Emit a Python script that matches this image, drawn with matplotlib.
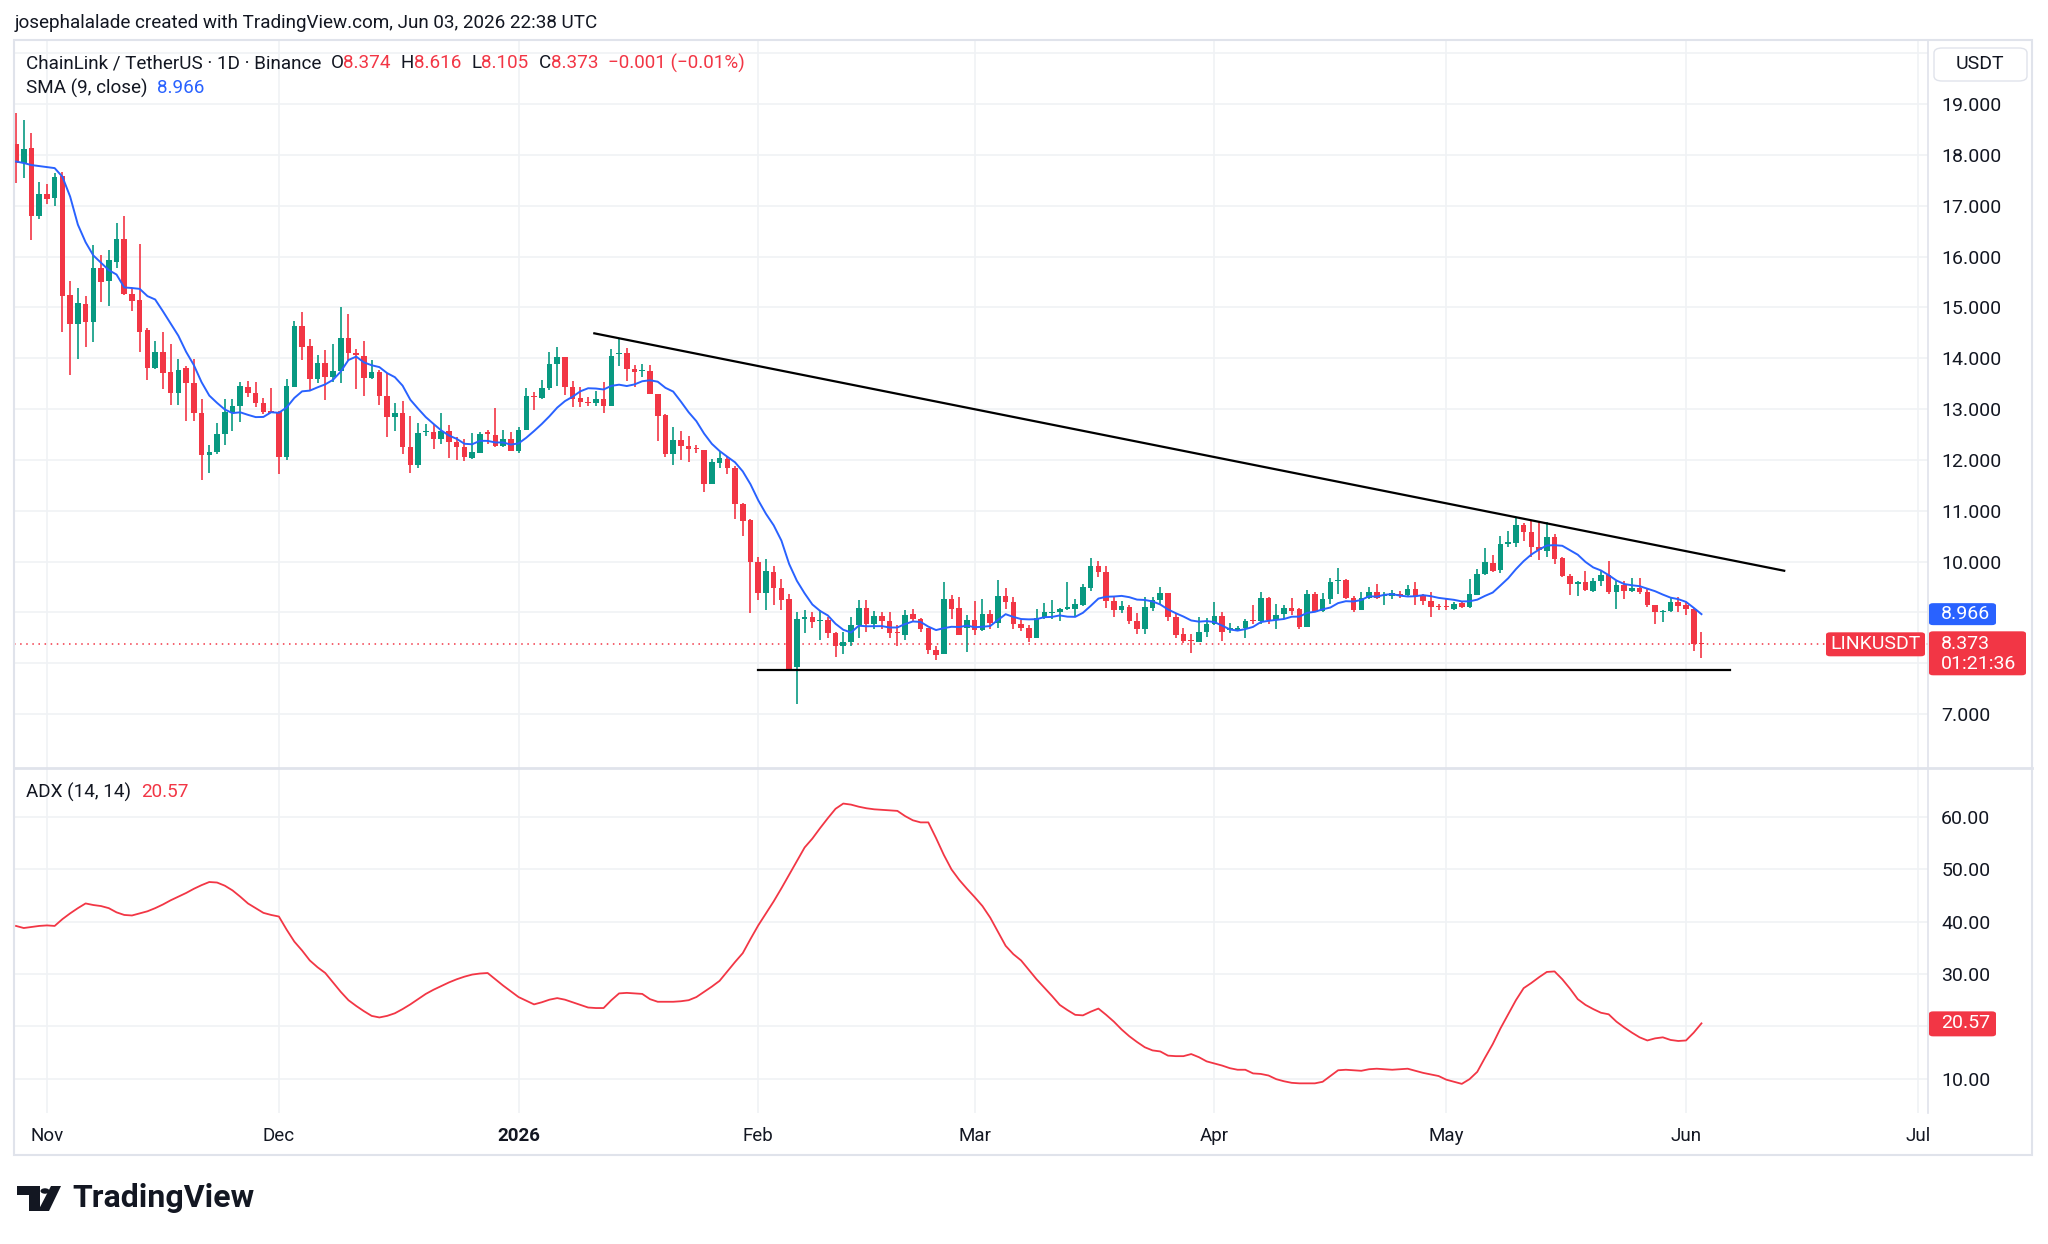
import numpy as np
import pandas as pd
import matplotlib
matplotlib.use('Agg')
import matplotlib.pyplot as plt
from matplotlib.patches import Rectangle, FancyBboxPatch, Polygon, Circle
from matplotlib.lines import Line2D
from matplotlib.transforms import IdentityTransform

plt.rcParams['font.family'] = ['Roboto', 'DejaVu Sans']

W, H = 2048, 1244
DARK = '#131722'
RED = '#F23645'
GREEN = '#089981'
BLUE = '#2962FF'
GRID = '#f0f2f5'
BORDER = '#e0e3eb'

# daily LINK/USDT candles (Oct 28 2025 .. Jun 3 2026)
start_date = '2025-10-28'
opens = [
    18.21, 17.84, 18.13, 16.80, 17.23, 17.15, 17.59, 15.25, 14.67, 15.07,
    14.72, 15.78, 15.51, 15.90, 16.35, 15.27, 15.15, 14.56, 13.80, 14.12,
    13.72, 13.32, 13.80, 13.51, 12.93, 12.10, 12.15, 12.51, 12.94, 13.06,
    13.44, 13.32, 13.11, 12.97, 12.95, 12.05, 13.44, 14.63, 14.24, 13.59,
    13.90, 13.64, 13.75, 14.39, 14.11, 14.04, 13.62, 13.72, 13.26, 12.84,
    12.92, 12.25, 11.90, 12.54, 12.55, 12.41, 12.56, 12.36, 12.26, 12.03,
    12.14, 12.54, 12.49, 12.28, 12.41, 12.18, 12.58, 13.25, 13.21, 13.41,
    13.89, 14.03, 13.43, 13.21, 13.14, 13.12, 13.20, 13.06, 14.08, 14.10,
    13.79, 13.74, 13.74, 13.30, 12.89, 12.11, 12.40, 12.27, 12.23, 12.19,
    11.52, 11.93, 12.01, 11.85, 11.13, 10.81, 9.99, 9.39, 9.79, 9.48,
    9.26, 7.92, 8.88, 8.91, 8.83, 8.85, 8.59, 8.33, 8.42, 8.76,
    9.09, 8.78, 8.93, 8.83, 8.62, 8.56, 8.96, 8.87, 8.70, 8.27,
    8.19, 9.27, 9.09, 8.70, 8.85, 8.65, 8.96, 8.80, 9.33, 9.20,
    8.78, 8.70, 8.50, 8.89, 8.98, 9.00, 9.07, 9.07, 9.14, 9.48,
    9.92, 9.79, 9.22, 9.05, 9.11, 8.83, 8.68, 9.09, 9.24, 9.38,
    8.91, 8.57, 8.45, 8.41, 8.62, 8.78, 8.93, 8.65, 8.63, 8.70,
    8.85, 8.83, 9.28, 8.85, 8.96, 9.09, 9.06, 8.72, 9.37, 9.02,
    9.26, 9.61, 9.63, 9.28, 9.04, 9.28, 9.40, 9.32, 9.33, 9.37,
    9.34, 9.47, 9.32, 9.23, 9.12, 9.13, 9.07, 9.19, 9.10, 9.34,
    9.76, 9.97, 9.84, 10.35, 10.36, 10.72, 10.59, 10.28, 10.21, 10.48,
    10.08, 9.71, 9.56, 9.59, 9.43, 9.62, 9.74, 9.40, 9.54, 9.43,
    9.49, 9.40, 9.14, 9.00, 9.02, 9.20, 9.15, 9.06, 8.374,
]
highs = [
    18.83, 18.68, 18.43, 17.46, 17.43, 17.64, 17.67, 15.51, 15.39, 15.23,
    16.22, 16.03, 16.13, 16.67, 16.80, 15.38, 16.25, 14.59, 14.33, 14.52,
    14.28, 13.98, 13.84, 13.98, 13.19, 12.30, 12.73, 13.19, 13.19, 13.54,
    13.55, 13.54, 13.21, 13.41, 12.97, 13.59, 14.74, 14.91, 14.38, 14.06,
    14.16, 14.28, 15.00, 14.88, 14.19, 14.34, 13.97, 13.77, 13.70, 13.11,
    13.15, 12.87, 12.73, 12.71, 12.71, 12.93, 12.69, 12.46, 12.41, 12.52,
    12.54, 12.59, 13.02, 12.59, 12.54, 12.64, 13.41, 13.34, 13.57, 14.13,
    14.23, 14.03, 13.55, 13.43, 13.24, 13.35, 13.53, 14.18, 14.37, 14.20,
    13.87, 13.88, 13.87, 13.30, 12.91, 12.65, 12.57, 12.48, 12.30, 12.19,
    12.01, 12.18, 12.05, 11.88, 11.15, 10.84, 10.09, 10.06, 9.92, 9.66,
    9.37, 9.01, 9.04, 9.01, 9.04, 8.91, 8.62, 8.62, 8.91, 9.24,
    9.24, 9.02, 9.00, 9.00, 8.76, 9.04, 9.06, 8.89, 8.70, 8.34,
    9.60, 9.35, 9.30, 8.94, 9.22, 9.26, 9.04, 9.63, 9.48, 9.30,
    8.85, 8.76, 9.07, 9.19, 9.24, 9.09, 9.60, 9.26, 9.56, 10.08,
    10.02, 9.92, 9.33, 9.22, 9.15, 8.98, 9.30, 9.30, 9.50, 9.38,
    8.98, 8.70, 8.58, 8.91, 8.89, 9.20, 9.00, 8.80, 8.73, 8.88,
    9.15, 9.41, 9.30, 9.17, 9.14, 9.28, 9.09, 9.45, 9.41, 9.39,
    9.67, 9.87, 9.66, 9.32, 9.40, 9.50, 9.56, 9.40, 9.45, 9.43,
    9.54, 9.59, 9.36, 9.40, 9.17, 9.28, 9.21, 9.21, 9.66, 9.85,
    10.26, 10.13, 10.51, 10.61, 10.87, 10.76, 10.80, 10.80, 10.77, 10.54,
    10.10, 9.76, 9.61, 9.82, 9.67, 9.82, 10.02, 9.61, 9.61, 9.67,
    9.67, 9.46, 9.15, 9.04, 9.30, 9.30, 9.21, 9.08, 8.616,
]
lows = [
    17.44, 17.55, 16.33, 16.73, 17.04, 17.00, 14.51, 13.67, 13.98, 14.23,
    14.31, 15.11, 15.02, 15.78, 15.25, 14.92, 14.13, 13.57, 13.78, 13.39,
    13.08, 13.08, 12.77, 12.77, 11.61, 11.74, 12.12, 12.30, 12.56, 12.74,
    13.23, 13.05, 12.90, 12.92, 11.72, 11.99, 13.43, 13.97, 13.38, 13.52,
    13.18, 13.54, 13.52, 13.97, 13.39, 13.26, 13.59, 13.08, 12.46, 12.56,
    12.12, 11.74, 11.84, 12.47, 12.21, 12.31, 12.03, 12.00, 11.97, 12.01,
    12.13, 12.31, 12.26, 12.25, 12.18, 12.13, 12.58, 12.98, 13.19, 13.38,
    13.45, 13.28, 13.04, 13.04, 13.07, 13.06, 12.93, 13.06, 13.85, 13.55,
    13.43, 13.63, 13.30, 12.37, 12.05, 11.90, 11.99, 11.95, 12.14, 11.37,
    11.52, 11.85, 11.72, 10.84, 10.51, 8.98, 9.24, 9.04, 9.14, 9.04,
    7.87, 7.19, 8.59, 8.69, 8.46, 8.49, 8.13, 8.18, 8.33, 8.49,
    8.62, 8.67, 8.67, 8.50, 8.34, 8.45, 8.81, 8.62, 8.19, 8.06,
    8.19, 8.88, 8.55, 8.23, 8.55, 8.63, 8.67, 8.70, 9.07, 8.68,
    8.63, 8.41, 8.50, 8.87, 8.88, 8.83, 9.04, 8.93, 9.13, 9.43,
    9.69, 9.09, 8.91, 8.98, 8.78, 8.58, 8.58, 9.02, 9.17, 8.83,
    8.50, 8.39, 8.21, 8.41, 8.52, 8.75, 8.43, 8.60, 8.63, 8.49,
    8.78, 8.78, 8.78, 8.68, 8.88, 8.94, 8.68, 8.72, 9.00, 9.01,
    9.17, 9.37, 9.27, 9.00, 9.04, 9.27, 9.27, 9.15, 9.27, 9.28,
    9.32, 9.15, 9.15, 8.92, 9.04, 9.04, 9.05, 9.08, 9.08, 9.34,
    9.74, 9.79, 9.78, 10.28, 10.28, 10.41, 10.10, 10.04, 10.10, 9.95,
    9.69, 9.34, 9.33, 9.43, 9.40, 9.52, 9.36, 9.07, 9.26, 9.41,
    9.36, 9.10, 8.77, 8.81, 9.00, 9.00, 8.95, 8.25, 8.105,
]
closes = [
    17.84, 18.12, 16.80, 17.23, 17.13, 17.56, 15.23, 14.67, 15.08, 14.72,
    15.78, 15.50, 15.93, 16.35, 15.27, 15.13, 14.52, 13.80, 14.12, 13.70,
    13.32, 13.77, 13.51, 12.92, 12.10, 12.15, 12.51, 12.95, 13.06, 13.46,
    13.32, 13.11, 12.95, 12.93, 12.05, 13.46, 14.63, 14.23, 13.59, 13.90,
    13.64, 13.75, 14.39, 14.10, 14.06, 13.61, 13.72, 13.26, 12.84, 12.92,
    12.25, 11.90, 12.52, 12.56, 12.41, 12.56, 12.36, 12.25, 12.05, 12.16,
    12.51, 12.51, 12.28, 12.41, 12.18, 12.58, 13.25, 13.23, 13.41, 13.89,
    14.03, 13.43, 13.20, 13.13, 13.12, 13.20, 13.06, 14.05, 14.10, 13.79,
    13.72, 13.76, 13.30, 12.87, 12.11, 12.40, 12.27, 12.22, 12.21, 11.52,
    11.95, 12.03, 11.85, 11.13, 10.79, 9.99, 9.39, 9.81, 9.48, 9.24,
    7.89, 8.88, 8.91, 8.82, 8.85, 8.59, 8.33, 8.42, 8.76, 9.09,
    8.78, 8.93, 8.83, 8.60, 8.60, 8.94, 8.87, 8.68, 8.26, 8.17,
    9.27, 9.07, 8.56, 8.85, 8.65, 8.96, 8.80, 9.33, 9.20, 8.78,
    8.70, 8.50, 8.89, 9.00, 9.01, 9.06, 9.11, 9.17, 9.50, 9.92,
    9.79, 9.22, 9.04, 9.12, 8.83, 8.68, 9.11, 9.24, 9.38, 8.91,
    8.56, 8.44, 8.43, 8.62, 8.78, 8.93, 8.62, 8.70, 8.70, 8.83,
    8.83, 9.28, 8.85, 8.94, 9.09, 9.02, 8.72, 9.37, 9.01, 9.27,
    9.60, 9.63, 9.28, 9.04, 9.28, 9.40, 9.28, 9.35, 9.38, 9.34,
    9.47, 9.33, 9.23, 9.10, 9.10, 9.11, 9.17, 9.10, 9.36, 9.76,
    10.00, 9.82, 10.35, 10.38, 10.72, 10.59, 10.28, 10.23, 10.48, 10.06,
    9.71, 9.56, 9.59, 9.44, 9.62, 9.74, 9.40, 9.54, 9.43, 9.49,
    9.40, 9.14, 9.00, 9.02, 9.20, 9.13, 9.06, 8.374, 8.373,
]
# SMA values for the first 8 days (window reaches before the visible range)
sma_head = [17.87, 17.84, 17.80, 17.78, 17.76, 17.74, 17.57, 17.18]

adx = [
    39.2, 38.8, 39.0, 39.2, 39.3, 39.2, 40.5, 41.6, 42.6, 43.5,
    43.2, 43.0, 42.6, 41.8, 41.3, 41.2, 41.6, 42.0, 42.6, 43.3,
    44.1, 44.8, 45.5, 46.3, 47.0, 47.6, 47.5, 46.9, 46.0, 44.8,
    43.5, 42.6, 41.7, 41.3, 41.0, 38.5, 36.2, 34.5, 32.6, 31.3,
    30.2, 28.4, 26.6, 25.0, 23.9, 22.9, 22.0, 21.7, 22.0, 22.5,
    23.3, 24.2, 25.2, 26.2, 27.0, 27.7, 28.4, 29.0, 29.5, 29.9,
    30.1, 30.2, 29.0, 27.8, 26.7, 25.6, 24.9, 24.2, 24.6, 25.1,
    25.4, 25.1, 24.6, 24.1, 23.6, 23.5, 23.5, 25.0, 26.3, 26.4,
    26.3, 26.2, 25.2, 24.7, 24.7, 24.7, 24.8, 25.0, 25.6, 26.6,
    27.6, 28.7, 30.5, 32.3, 34.0, 36.7, 39.3, 41.6, 43.9, 46.4,
    49.0, 51.6, 54.2, 55.9, 57.9, 59.8, 61.6, 62.6, 62.4, 62.0,
    61.7, 61.5, 61.4, 61.3, 61.2, 60.2, 59.4, 59.0, 59.0, 56.0,
    52.8, 50.0, 48.0, 46.3, 44.7, 43.0, 40.8, 38.1, 35.4, 33.8,
    32.6, 30.8, 29.0, 27.4, 25.8, 24.1, 23.1, 22.2, 22.1, 22.8,
    23.4, 22.2, 20.9, 19.4, 18.1, 17.0, 16.0, 15.4, 15.2, 14.4,
    14.3, 14.3, 14.7, 14.1, 13.3, 12.9, 12.5, 12.0, 11.7, 11.7,
    11.0, 10.9, 10.6, 9.9, 9.5, 9.2, 9.1, 9.1, 9.1, 9.4,
    10.5, 11.6, 11.7, 11.6, 11.5, 11.8, 11.9, 11.8, 11.7, 11.8,
    11.9, 11.5, 11.1, 10.8, 10.5, 9.8, 9.4, 9.0, 9.9, 11.3,
    14.0, 16.6, 19.6, 22.3, 25.0, 27.3, 28.3, 29.4, 30.4, 30.5,
    29.0, 27.2, 25.2, 24.1, 23.3, 22.6, 22.3, 20.9, 19.8, 18.8,
    17.9, 17.3, 17.7, 17.9, 17.4, 17.2, 17.3, 18.8, 20.57,
]

# hand-drawn trendlines (day offset from start, price)
resist_x = [74.8, 228.7]
resist_y = [14.49, 9.82]
support_x = [96.0, 221.7]
support_y = [7.87, 7.87]

month_starts = ['2025-11-01', '2025-12-01', '2026-01-01', '2026-02-01', '2026-03-01',
                '2026-04-01', '2026-05-01', '2026-06-01', '2026-07-01']
month_labels = ['Nov', 'Dec', '2026', 'Feb', 'Mar', 'Apr', 'May', 'Jun', 'Jul']
price_ticks = list(range(7, 21))
adx_ticks = [10, 20, 30, 40, 50, 60]

o = np.array(opens); h = np.array(highs); l = np.array(lows); c = np.array(closes)
n = len(c)
x = np.arange(n)
t0 = pd.Timestamp(start_date)
month_x = [(pd.Timestamp(m) - t0).days for m in month_starts]

sma = pd.Series(c).rolling(9).mean().to_numpy()
sma[:len(sma_head)] = sma_head

fig = plt.figure(figsize=(W / 100, H / 100), dpi=100)
fig.patch.set_facecolor('white')


def fr(px, py):
    return px / W, 1 - py / H


ax = fig.add_axes([14 / W, 1 - 768 / H, (1928 - 14) / W, (768 - 40) / H])
ax2 = fig.add_axes([14 / W, 1 - 1113 / H, (1928 - 14) / W, (1113 - 768) / H], sharex=ax)

xmin, xmax = -0.26, 247.3
for a in (ax, ax2):
    a.set_xlim(xmin, xmax)
    for s in a.spines.values():
        s.set_visible(False)
    a.set_xticks(month_x)
    a.grid(True, color=GRID, lw=1.2, zorder=0)
    a.set_axisbelow(True)
    a.yaxis.tick_right()
    a.tick_params(axis='y', length=0, pad=9.5, labelsize=14, labelcolor=DARK)
    a.tick_params(axis='x', length=0)

ax.set_ylim(5.94, 20.26)
ax.set_yticks(price_ticks)
ax.set_yticklabels(['' if v in (8, 9, 20) else f'{v:.3f}' for v in price_ticks])
ax.tick_params(axis='x', labelbottom=False)

ax2.set_ylim(3.43, 69.4)
ax2.set_yticks(adx_ticks)
ax2.set_yticklabels(['' if v == 20 else f'{v:.2f}' for v in adx_ticks])
ax2.set_xticklabels(month_labels)
ax2.tick_params(axis='x', pad=10, labelsize=13.5, labelcolor=DARK)
for lab in ax2.get_xticklabels():
    if lab.get_text() == '2026':
        lab.set_fontweight('bold')

# candles
up = c >= o
cols = np.where(up, GREEN, RED)
body_lo = np.minimum(o, c)
body_h = np.maximum(np.abs(c - o), 0.02)
ax.vlines(x, l, h, colors=cols, lw=1.2, zorder=3)
ax.bar(x, body_h, bottom=body_lo, width=0.72, color=cols, lw=0, zorder=4)

ax.plot(x, sma, color=BLUE, lw=1.4, zorder=5)
ax.plot(resist_x, resist_y, color='black', lw=1.6, zorder=6)
ax.plot(support_x, support_y, color='black', lw=1.6, zorder=6)
ax.axhline(c[-1], color=RED, lw=1.1, ls=(0, (1, 3)), zorder=2)

ax2.plot(x, adx, color=RED, lw=1.3, zorder=3)

# frame and separators
fig.add_artist(Rectangle(fr(14, 1155), (2032 - 14) / W, (1155 - 40) / H, fill=False,
                         ec=BORDER, lw=1.5, transform=fig.transFigure))
fig.add_artist(Line2D([1928 / W, 1928 / W], [1 - 40 / H, 1 - 1113 / H], color=BORDER, lw=1.2,
                      transform=fig.transFigure))
fig.add_artist(Line2D([14 / W, 2032 / W], [1 - 768 / H, 1 - 768 / H], color=BORDER, lw=2,
                      transform=fig.transFigure))


# right axis labels
def ybox(axis, value, x0, x1, up_px, down_px, color):
    yp = H - axis.transData.transform((0, value))[1]
    fig.add_artist(FancyBboxPatch(fr(x0, yp + down_px), (x1 - x0) / W, (up_px + down_px) / H,
                                  boxstyle='round,pad=0,rounding_size=0.002', fc=color, ec='none',
                                  transform=fig.transFigure, zorder=10))
    return yp


yp = ybox(ax, sma[-1], 1929, 1996, 11, 11, BLUE)
fig.text(*fr(1941, yp), f'{sma[-1]:.3f}', color='white', fontsize=14, va='center', zorder=11)
yp = ybox(ax, c[-1], 1929, 2026, 13, 31, RED)
fig.text(*fr(1941, yp), f'{c[-1]:.3f}', color='white', fontsize=14, va='center', zorder=11)
fig.text(*fr(1941, yp + 20), '01:21:36', color='white', fontsize=14, va='center', zorder=11)
yp = ybox(ax, c[-1], 1826, 1925, 12, 12, RED)
fig.text(*fr(1875, yp), 'LINKUSDT', color='white', fontsize=14, va='center', ha='center', zorder=11)
yp = ybox(ax2, adx[-1], 1929, 1996, 12, 13, RED)
fig.text(*fr(1941, yp), f'{adx[-1]:.2f}', color='white', fontsize=14, va='center', zorder=11)

fig.add_artist(FancyBboxPatch(fr(1934, 81), 93 / W, 33 / H, boxstyle='round,pad=0,rounding_size=0.004',
                              fc='white', ec=BORDER, lw=1, transform=fig.transFigure, zorder=10))
fig.text(*fr(1980, 64), 'USDT', color=DARK, fontsize=14, ha='center', va='center', zorder=11)

# header and legends
renderer = fig.canvas.get_renderer()


def write_row(px, py, parts, size=13.6):
    for s, color, gap in parts:
        t = fig.text(px, H - py, s, color=color, fontsize=size, va='center', ha='left',
                     transform=IdentityTransform())
        bb = t.get_window_extent(renderer)
        px = bb.x1 + gap


write_row(15, 23, [('josephalalade created with TradingView.com, Jun 03, 2026 22:38 UTC', DARK, 0)])
write_row(26, 63, [('ChainLink / TetherUS · 1D · Binance', DARK, 9), ('O', DARK, 0), ('8.374', RED, 10),
                   ('H', DARK, 0), ('8.616', RED, 10), ('L', DARK, 0), ('8.105', RED, 10),
                   ('C', DARK, 0), ('8.373', RED, 10), ('−0.001 (−0.01%)', RED, 0)])
write_row(26, 88, [('SMA (9, close)', DARK, 10), (f'{sma[-1]:.3f}', BLUE, 0)])
write_row(26, 792, [('ADX (14, 14)', DARK, 10), (f'{adx[-1]:.2f}', RED, 0)])

# TradingView logo
fig.add_artist(Rectangle(fr(17, 1195), 23 / W, 9 / H, fc=DARK, ec='none', transform=fig.transFigure))
fig.add_artist(Rectangle(fr(29, 1211), 11 / W, 25 / H, fc=DARK, ec='none', transform=fig.transFigure))
fig.add_artist(Polygon([fr(51, 1186), fr(61, 1186), fr(49, 1211), fr(38, 1211)], closed=True,
                       fc=DARK, ec='none', transform=fig.transFigure))
fig.add_artist(Circle(fr(45, 1191), 4.5 / W, fc=DARK, ec='none', transform=fig.transFigure))
fig.text(*fr(72, 1198), 'TradingView', color=DARK, fontsize=23, fontweight='bold', va='center')

fig.savefig('out.png', dpi=100, facecolor='white')
